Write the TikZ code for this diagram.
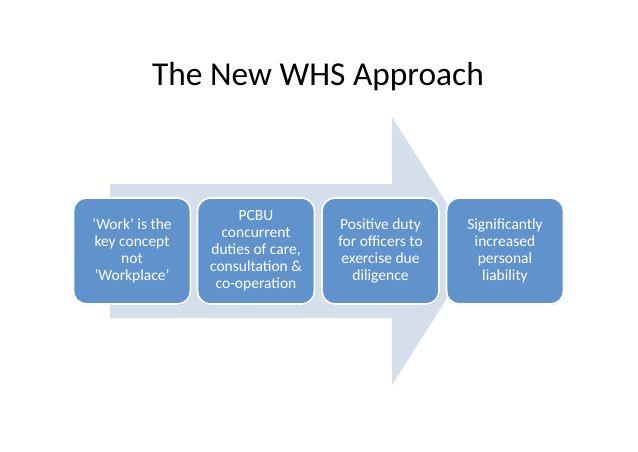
\documentclass[tikz,border=0pt]{standalone}
\usepackage{fontspec}
\setmainfont{Carlito}
\usetikzlibrary{shadows}
\definecolor{boxblue}{RGB}{96,146,204}
\definecolor{arrowgrey}{RGB}{213,222,235}
\tikzset{
  stepbox/.style={rounded corners=13pt, fill=boxblue, draw=white, line width=1.6pt,
    minimum width=117pt, minimum height=106pt, text=white, align=center,
    font=\fontsize{15.5}{17}\selectfont, inner sep=2pt,
    drop shadow={opacity=0.25, shadow xshift=0.8pt, shadow yshift=-1.2pt}},
}
\begin{document}
\begin{tikzpicture}[x=1pt,y=1pt]
\useasboundingbox (0,0) rectangle (638,451);
% big arrow
\fill[arrowgrey] (110,451-184) -- (392,451-184) -- (392,451-117) -- (477,451-251)
  -- (392,451-385) -- (392,451-318) -- (110,451-318) -- cycle;
\node[font=\fontsize{33.4}{40}\selectfont, anchor=base] (title) at (318,451-85) {The New WHS Approach};
\node[stepbox] (b1) at (132,451-251) {‘Work’ is the\\key concept\\not\\‘Workplace’};
\node[stepbox] (b2) at (256,451-251) {PCBU\\concurrent\\duties of care,\\consultation \&\\co-operation};
\node[stepbox] (b3) at (380.5,451-251) {Positive duty\\for officers to\\exercise due\\diligence};
\node[stepbox] (b4) at (505,451-251) {Significantly\\increased\\personal\\liability};
\end{tikzpicture}
\end{document}
